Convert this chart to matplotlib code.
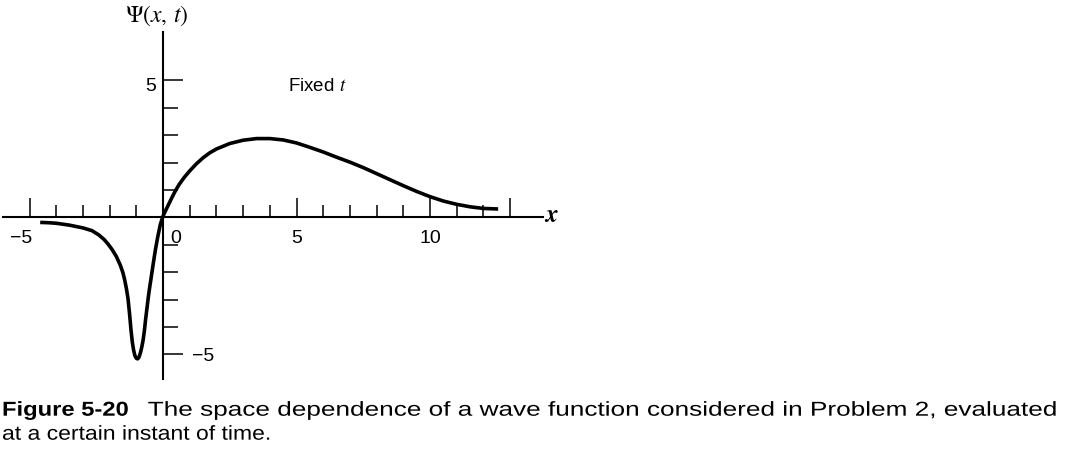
import numpy as np
import matplotlib
matplotlib.use("Agg")
import matplotlib.pyplot as plt
from matplotlib import patheffects
from matplotlib.transforms import Affine2D

# curve: x position and Psi(x, t) at a fixed time
x_pts = [-4.6, -4.3, -4.0, -3.5, -3.0, -2.66, -2.4, -2.2, -2.05, -1.9,
         -1.75, -1.6, -1.5, -1.44, -1.37, -1.31, -1.25, -1.2, -1.15, -1.1,
         -1.05, -1.0, -0.95, -0.9, -0.85, -0.8, -0.75, -0.7, -0.65, -0.6,
         -0.55, -0.5, -0.46, -0.4, -0.34, -0.28, -0.2, -0.1, 0.0, 0.1,
         0.22, 0.35, 0.45, 0.6, 0.8, 1.0, 1.25, 1.5, 1.75, 2.0,
         2.5, 3.0, 3.5, 4.0, 4.5, 5.0, 5.5, 6.0, 6.5, 7.0,
         7.5, 8.0, 8.5, 9.0, 9.5, 10.0, 10.5, 11.0, 11.5, 12.0,
         12.55]
psi_pts = [-0.18, -0.19, -0.21, -0.28, -0.38, -0.48, -0.64, -0.81, -0.98, -1.18,
           -1.42, -1.74, -2.02, -2.26, -2.6, -2.97, -3.55, -4.1, -4.55, -4.85,
           -5.05, -5.14, -5.16, -5.1, -4.95, -4.75, -4.5, -4.15, -3.7, -3.3,
           -2.9, -2.55, -2.3, -1.9, -1.52, -1.15, -0.72, -0.25, 0.05, 0.26,
           0.5, 0.76, 0.95, 1.2, 1.47, 1.7, 1.96, 2.18, 2.36, 2.5,
           2.7, 2.82, 2.88, 2.88, 2.83, 2.72, 2.56, 2.39, 2.2, 2.02,
           1.82, 1.6, 1.38, 1.16, 0.95, 0.76, 0.6, 0.48, 0.39, 0.33,
           0.31]

x_major = [-5, 5, 10, 13]
x_minor = [-4, -3, -2, -1, 1, 2, 3, 4, 6, 7, 8, 9, 11, 12]
y_major = [-5, 5]
y_minor = [-4, -3, -2, -1, 1, 2, 3, 4]
x_labels = {-5: "\u22125", 0: "0", 5: "5", 10: "10"}
y_labels = {5: "5", -5: "\u22125"}

caption_bold = "Figure 5-20"
caption_line1 = "The space dependence of a wave function considered in Problem 2, evaluated"
caption_line2 = "at a certain instant of time."


class Stretch(patheffects.AbstractPathEffect):
    # widen glyphs horizontally, the scanned caption is set wide
    def __init__(self, sx):
        super().__init__()
        self.sx = sx

    def draw_path(self, renderer, gc, tpath, affine, rgbFace=None):
        renderer.draw_path(gc, tpath, Affine2D().scale(self.sx, 1) + affine, rgbFace)


plt.rcParams['mathtext.fontset'] = 'stix'
plt.rcParams['font.family'] = ['Liberation Sans', 'DejaVu Sans']

fig = plt.figure(figsize=(10.72, 4.56), dpi=100)
ax = fig.add_axes([0, 0, 1, 1])
ax.set_xlim(-6.105, 34.04)
ax.set_ylim(-8.668, 7.974)

ax.plot(x_pts, psi_pts, color='black', lw=2.6, solid_joinstyle='round',
        solid_capstyle='butt')

for side in ['top', 'right']:
    ax.spines[side].set_visible(False)
ax.spines['left'].set_position(('data', 0))
ax.spines['bottom'].set_position(('data', 0))
ax.spines['left'].set_bounds(-5.89, 6.77)
ax.spines['bottom'].set_bounds(-5.99, 14.23)
ax.spines['left'].set_linewidth(1.5)
ax.spines['bottom'].set_linewidth(1.5)

ax.set_xticks(x_major)
ax.set_xticks(x_minor, minor=True)
ax.set_yticks(y_major)
ax.set_yticks(y_minor, minor=True)
ax.tick_params(axis='x', which='major', direction='in', length=13.7, width=1.1,
               labelbottom=False)
ax.tick_params(axis='x', which='minor', direction='in', length=8.6, width=1.1)
ax.tick_params(axis='y', which='major', direction='in', length=14.4, width=1.1,
               labelleft=False)
ax.tick_params(axis='y', which='minor', direction='in', length=10.8, width=1.1)

# tick numbers sit where the book put them
ax.text(-5.3, -0.88, x_labels[-5], ha='center', va='baseline', fontsize=14)
ax.text(0.46, -0.88, x_labels[0], ha='center', va='baseline', fontsize=14)
ax.text(5, -0.88, x_labels[5], ha='center', va='baseline', fontsize=14)
ax.text(10, -0.88, x_labels[10], ha='center', va='baseline', fontsize=14)
ax.text(-0.27, 4.67, y_labels[5], ha='right', va='baseline', fontsize=14)
ax.text(1.1, -5.2, y_labels[-5], ha='left', va='baseline', fontsize=14)

ax.text(14.56, -0.12, "x", ha='center', va='baseline', fontsize=18,
        family='STIXGeneral', style='italic', weight='bold')
ax.text(-0.22, 7.18, r"$\Psi(x,\,t)$", ha='center', va='baseline', fontsize=17)
ax.text(4.68, 4.66, r"Fixed $t$", ha='left', va='baseline', fontsize=13.5)

fig.text(2 / 1072, 0.0862, caption_bold, ha='left', va='baseline', fontsize=14.5,
         weight='bold', path_effects=[Stretch(1.18)])
fig.text(147.7 / 1072, 0.0862, caption_line1, ha='left', va='baseline',
         fontsize=14.5, path_effects=[Stretch(1.3)])
fig.text(2 / 1072, 0.0336, caption_line2, ha='left', va='baseline',
         fontsize=14.5, path_effects=[Stretch(1.14)])

fig.savefig("out.png", dpi=100, facecolor='white')
